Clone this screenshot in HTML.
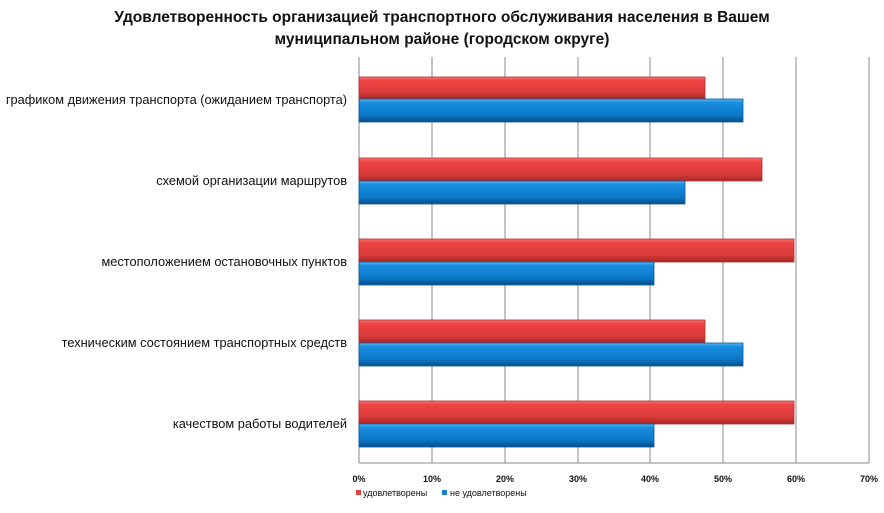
<!DOCTYPE html>
<html><head><meta charset="utf-8"><style>
body{margin:0;background:#fff;}
svg text{font-family:"Liberation Sans","DejaVu Sans",sans-serif;}
</style></head><body>
<svg width="884" height="508" xmlns="http://www.w3.org/2000/svg">
<defs>
<linearGradient id="r" x1="0" y1="0" x2="0" y2="1">
<stop offset="0" stop-color="#f47a7a"/><stop offset="0.15" stop-color="#f04444"/><stop offset="0.7" stop-color="#d83a3a"/><stop offset="1" stop-color="#a82828"/></linearGradient>
<linearGradient id="b" x1="0" y1="0" x2="0" y2="1">
<stop offset="0" stop-color="#5ab8f0"/><stop offset="0.15" stop-color="#1a8ee0"/><stop offset="0.7" stop-color="#0a78c8"/><stop offset="1" stop-color="#0a4e8a"/></linearGradient>
</defs>
<text x="442" y="22" text-anchor="middle" font-size="15.5" font-weight="bold" fill="#111">Удовлетворенность организацией транспортного обслуживания населения в Вашем</text>
<text x="442" y="44" text-anchor="middle" font-size="15.5" font-weight="bold" fill="#111">муниципальном районе (городском округе)</text>
<g stroke="#888" stroke-width="1">
<line x1="432" y1="57" x2="432" y2="463"/><line x1="505" y1="57" x2="505" y2="463"/><line x1="578" y1="57" x2="578" y2="463"/><line x1="650" y1="57" x2="650" y2="463"/><line x1="723" y1="57" x2="723" y2="463"/><line x1="796" y1="57" x2="796" y2="463"/><line x1="869" y1="57" x2="869" y2="463"/>
<line x1="359" y1="57" x2="359" y2="463"/><line x1="359" y1="463" x2="869" y2="463"/>
</g>
<g stroke-width="0.8">
<rect x="359" y="77" width="346" height="22" fill="url(#r)" stroke="#b03030"/>
<rect x="359" y="99" width="384" height="23" fill="url(#b)" stroke="#0a5a9a"/>
<rect x="359" y="158" width="403" height="23" fill="url(#r)" stroke="#b03030"/>
<rect x="359" y="181" width="326" height="23" fill="url(#b)" stroke="#0a5a9a"/>
<rect x="359" y="239" width="435" height="23" fill="url(#r)" stroke="#b03030"/>
<rect x="359" y="262" width="295" height="23" fill="url(#b)" stroke="#0a5a9a"/>
<rect x="359" y="320" width="346" height="23" fill="url(#r)" stroke="#b03030"/>
<rect x="359" y="343" width="384" height="23" fill="url(#b)" stroke="#0a5a9a"/>
<rect x="359" y="401" width="435" height="23" fill="url(#r)" stroke="#b03030"/>
<rect x="359" y="424" width="295" height="23" fill="url(#b)" stroke="#0a5a9a"/>
</g>
<g font-size="12.8" fill="#111" text-anchor="end">
<text x="347" y="104">графиком движения транспорта (ожиданием транспорта)</text>
<text x="347" y="185">схемой организации маршрутов</text>
<text x="347" y="266">местоположением остановочных пунктов</text>
<text x="347" y="347">техническим состоянием транспортных средств</text>
<text x="347" y="428">качеством работы водителей</text>
</g>
<g font-size="9" fill="#111" text-anchor="middle" font-weight="600">
<text x="359" y="482">0%</text><text x="432" y="482">10%</text><text x="505" y="482">20%</text><text x="578" y="482">30%</text><text x="650" y="482">40%</text><text x="723" y="482">50%</text><text x="796" y="482">60%</text><text x="869" y="482">70%</text>
</g>
<rect x="356" y="490" width="5" height="5" fill="#e04040"/>
<text x="363" y="496" font-size="9" fill="#111">удовлетворены</text>
<rect x="442" y="490" width="5" height="5" fill="#1a7ec8"/>
<text x="450" y="496" font-size="9" fill="#111">не удовлетворены</text>
</svg>
</body></html>
